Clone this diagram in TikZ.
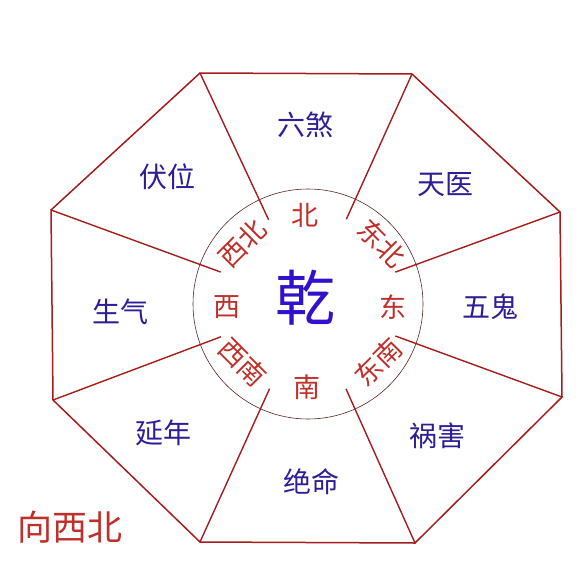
\documentclass[tikz,border=0pt]{standalone}
\usepackage{fontspec}
\usetikzlibrary{calc}
\newfontfamily\cjk{Noto Sans CJK SC}
\definecolor{wall}{HTML}{A51C1C}
\definecolor{ring}{HTML}{5A2626}
\definecolor{star}{HTML}{2D1E96}
\definecolor{gua}{HTML}{3311CC}
\definecolor{fang}{HTML}{C0302A}

\begin{document}
\begin{tikzpicture}[x=1pt,y=-1pt,
    starlabel/.style={text=star, font=\cjk\fontsize{28}{30}\selectfont},
    fanglabel/.style={text=fang, inner sep=0pt, font=\cjk\fontsize{27}{29}\selectfont},
    spoke/.style={wall, line width=1.4pt}]
    \useasboundingbox (0,0) rectangle (580,578);
    % octagon corners and centre
    \coordinate (A) at (200,73);
    \coordinate (B) at (412,74);
    \coordinate (C) at (560,212);
    \coordinate (D) at (562,397);
    \coordinate (E) at (415,543);
    \coordinate (F) at (200,542);
    \coordinate (G) at (53,400);
    \coordinate (H) at (51,210);
    \coordinate (O) at (308,304);
    \draw [wall, line width=1.5pt] (A) -- (B) -- (C) -- (D) -- (E) -- (F) -- (G) -- (H) -- cycle;
    \draw [ring, line width=0.6pt] (O) circle [radius=115pt];
    % spokes
    \draw [spoke] (A) -- ($(O)!93pt!(A)$);
    \draw [spoke] (B) -- ($(O)!93pt!(B)$);
    \draw [spoke] (C) -- ($(O)!93pt!(C)$);
    \draw [spoke] (D) -- ($(O)!93pt!(D)$);
    \draw [spoke] (E) -- ($(O)!93pt!(E)$);
    \draw [spoke] (F) -- ($(O)!93pt!(F)$);
    \draw [spoke] (G) -- ($(O)!93pt!(G)$);
    \draw [spoke] (H) -- ($(O)!93pt!(H)$);
    % centre
    \node[text=gua, font=\cjk\fontsize{60}{62}\selectfont] (qian) at (305,298) {乾};
    % directions
    \node[fanglabel] (bei) at (305,215) {北};
    \node[fanglabel] (xi) at (227,307) {西};
    \node[fanglabel] (dong) at (393,307) {东};
    \node[fanglabel] (nan) at (307,387) {南};
    \node[fanglabel, rotate=45] (xibei) at (242,243) {西北};
    \node[fanglabel, rotate=-45] (dongbei) at (382,243) {东北};
    \node[fanglabel, rotate=-45] (xinan) at (243,362) {西南};
    \node[fanglabel, rotate=45] (dongnan) at (378,362) {东南};
    % stars
    \node[starlabel] (liusha) at (305,125) {六煞};
    \node[starlabel] (tianyi) at (445,185) {天医};
    \node[starlabel] (wugui) at (490,307) {五鬼};
    \node[starlabel] (huohai) at (437,436) {祸害};
    \node[starlabel] (jueming) at (311,482) {绝命};
    \node[starlabel] (yannian) at (163,433) {延年};
    \node[starlabel] (shengqi) at (120,312) {生气};
    \node[starlabel] (fuwei) at (167,177) {伏位};
    \node[text=fang, font=\cjk\fontsize{35}{37}\selectfont] (xiang) at (70,527) {向西北};
\end{tikzpicture}
\end{document}
